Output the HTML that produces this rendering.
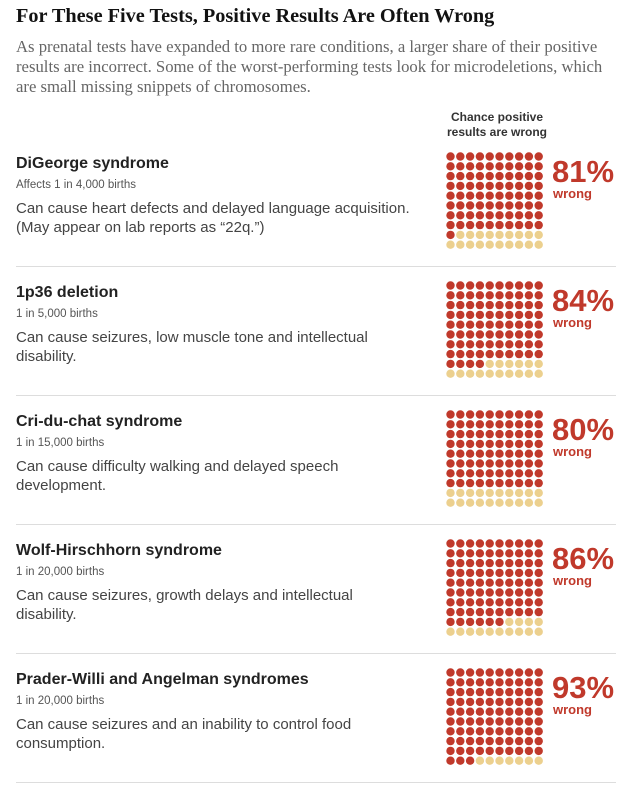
<!DOCTYPE html>
<html><head><meta charset="utf-8"><style>
body{margin:0;width:632px;height:797px;background:#fff;position:relative;overflow:hidden;font-family:"Liberation Sans",sans-serif;color:#333}
.a{position:absolute;white-space:nowrap}
h1{position:absolute;left:16px;top:5px;margin:0;font:bold 20.3px "Liberation Serif",serif;color:#121212;white-space:nowrap}
.sub{position:absolute;left:16px;top:37px;font:16.7px/20px "Liberation Serif",serif;color:#666;white-space:nowrap}
.hd{position:absolute;left:436px;top:110px;width:122px;text-align:center;font:bold 12px/15px "Liberation Sans",sans-serif;color:#333}
.name{font:bold 16px "Liberation Sans",sans-serif;color:#222}
.sm{font:11.5px "Liberation Sans",sans-serif;color:#555}
.desc{font:15px/19px "Liberation Sans",sans-serif;color:#444}
.pct{font:bold 31px "Liberation Sans",sans-serif;color:#c0392b}
.wr{font:bold 13px "Liberation Sans",sans-serif;color:#c0392b}
.line{position:absolute;left:16px;width:600px;height:1px;background:#ddd}
</style></head><body>
<h1>For These Five Tests, Positive Results Are Often Wrong</h1>
<div class="sub">As prenatal tests have expanded to more rare conditions, a larger share of their positive<br>results are incorrect. Some of the worst-performing tests look for microdeletions, which<br>are small missing snippets of chromosomes.</div>
<div class="hd">Chance positive<br>results are wrong</div>
<div id="c"></div>
<script>
var d=[["DiGeorge syndrome","Affects 1 in 4,000 births","Can cause heart defects and delayed language acquisition.<br>(May appear on lab reports as “22q.”)",81],
["1p36 deletion","1 in 5,000 births","Can cause seizures, low muscle tone and intellectual<br>disability.",84],
["Cri-du-chat syndrome","1 in 15,000 births","Can cause difficulty walking and delayed speech<br>development.",80],
["Wolf-Hirschhorn syndrome","1 in 20,000 births","Can cause seizures, growth delays and intellectual<br>disability.",86],
["Prader-Willi and Angelman syndromes","1 in 20,000 births","Can cause seizures and an inability to control food<br>consumption.",93]];
var h="";
d.forEach(function(r,i){var y=i*129;
h+='<div class="a name" style="left:16px;top:'+(155+y)+'px">'+r[0]+'</div>';
h+='<div class="a sm" style="left:16px;top:'+(179+y)+'px">'+r[1]+'</div>';
h+='<div class="a desc" style="left:16px;top:'+(199+y)+'px">'+r[2]+'</div>';
h+='<div class="a pct" style="left:552px;top:'+(154+y)+'px">'+r[3]+'%</div>';
h+='<div class="a wr" style="left:553px;top:'+(186+y)+'px">wrong</div>';
h+='<div class="line" style="top:'+(266+y)+'px"></div>';
var s='<svg class="a" style="left:446px;top:'+(152+y)+'px" width="102" height="102">';
for(var k=0;k<100;k++){var rr=Math.floor(k/10),cc=k%10;
s+='<circle cx="'+(4.5+cc*9.8)+'" cy="'+(4.5+rr*9.8)+'" r="4.2" fill="'+(k<r[3]?'#c0392b':'#ecd08e')+'"/>';}
h+=s+'</svg>';});
document.getElementById('c').innerHTML=h;
</script>
</body></html>
